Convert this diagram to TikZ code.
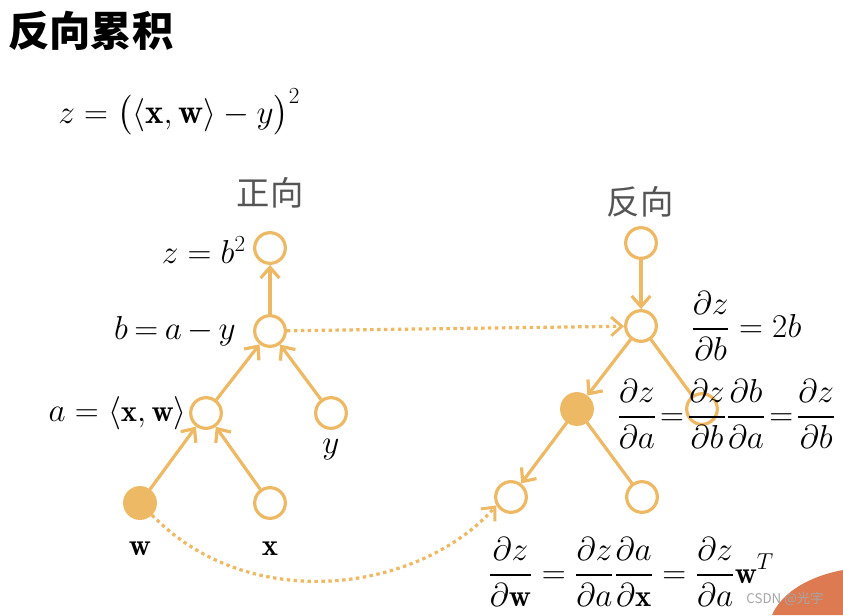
\documentclass[tikz,border=0pt]{standalone}
\usepackage{amsmath}
\usepackage{fontspec}
\newfontfamily\cjk{Noto Sans CJK SC}
\usetikzlibrary{arrows.meta}
\definecolor{orng}{RGB}{237,185,100}
\definecolor{blobc}{RGB}{222,122,82}
\definecolor{graytxt}{RGB}{85,85,85}
\begin{document}
\begin{tikzpicture}[x=0.75pt,y=-0.75pt,
  nd/.style={circle, draw=orng, line width=2.4pt, minimum size=23pt, inner sep=0pt},
  fnd/.style={nd, fill=orng},
  edge/.style={draw=orng, line width=2.4pt},
  arr/.style={edge, -{Straight Barb[length=8pt,width=14pt]}},
  dotarr/.style={edge, dash pattern=on 2.6pt off 2.6pt, -{Straight Barb[length=8pt,width=14pt,line width=2.2pt]}},
  mth/.style={inner sep=0pt},
  cjklab/.style={inner sep=0pt, text=graytxt, font=\cjk\fontsize{25}{30}\selectfont}
]
\useasboundingbox (0,0) rectangle (843,615);
\fill[white] (0,0) rectangle (843,615);

% title and formula
\node[inner sep=0pt, anchor=west, font=\cjk\bfseries\fontsize{31}{36}\selectfont] (title) at (8,31) {反向累积};
\node[mth, anchor=west] (formula) at (58,112) {\fontsize{26}{30}\selectfont$z = \big(\langle \mathbf{x}, \mathbf{w}\rangle - y\big)^2$};

% forward
\node[cjklab] (fwd) at (270,193) {正向};
\node[nd] (z) at (270,248) {};
\node[nd] (b) at (270,331) {};
\node[nd] (a) at (206,413) {};
\node[nd] (y) at (331,413) {};
\node[fnd] (w) at (140,503) {};
\node[nd] (x) at (270,503) {};

\node[mth, anchor=east] (zl) at (246,250) {\fontsize{23}{27}\selectfont$z = b^2$};
\node[mth, anchor=east] (bl) at (236,331) {\fontsize{23}{27}\selectfont\thickmuskip=3.5mu\medmuskip=3mu$b = a - y$};
\node[mth, anchor=east] (al) at (187,413) {\fontsize{23}{27}\selectfont$a = \langle \mathbf{x}, \mathbf{w}\rangle$};
\node[mth] (yl) at (331,450) {\fontsize{23}{27}\selectfont$y$};
\node[mth] (wl) at (140,549) {\fontsize{23}{27}\selectfont$\mathbf{w}$};
\node[mth] (xl) at (270,549) {\fontsize{23}{27}\selectfont$\mathbf{x}$};

\draw[arr] (b) -- (z);
\draw[arr] (a) -- (b);
\draw[arr] (y) -- (b);
\draw[arr] (w) -- (a);
\draw[arr] (x) -- (a);

% backward
\node[cjklab] (bwd) at (640,202) {反向};
\node[nd] (rz) at (641,243) {};
\node[nd] (rb) at (641,326) {};
\node[fnd] (ra) at (577,409) {};
\node[nd] (ry) at (702,409) {};
\node[nd] (rw) at (511,497) {};
\node[nd] (rx) at (642,497) {};

\draw[arr] (rz) -- (rb);
\draw[arr] (rb) -- (ra);
\draw[edge] (rb) -- (ry);
\draw[arr] (ra) -- (rw);
\draw[edge] (ra) -- (rx);

% dotted transfers
\draw[dotarr] (b) -- (rb);
\draw[dotarr] (w.-45) .. controls (250,616) and (420,592) .. (rw.-150);

% derivative labels
\node[mth, anchor=west] (e1) at (691,326) {\fontsize{23}{27}\selectfont$\displaystyle\frac{\partial z}{\partial b} = 2b$};
\node[mth, anchor=west] (e2) at (617,414) {\fontsize{23}{27}\selectfont\thickmuskip=2mu$\displaystyle\frac{\partial z}{\partial a} = \frac{\partial z}{\partial b}\frac{\partial b}{\partial a} = \frac{\partial z}{\partial b}$};
\node[mth, anchor=west] (e3) at (488,572) {\fontsize{23}{27}\selectfont$\displaystyle\frac{\partial z}{\partial \mathbf{w}} = \frac{\partial z}{\partial a}\frac{\partial a}{\partial \mathbf{x}} = \frac{\partial z}{\partial a}\mathbf{w}^T$};

% corner shape and watermark
\fill[blobc] (772,615) .. controls (782,592) and (810,576) .. (843,570) -- (843,615) -- cycle;
\node[inner sep=0pt, text=black!35, font=\cjk\fontsize{10}{12}\selectfont] (wm) at (785,599) {CSDN @光宇};
\end{tikzpicture}
\end{document}
